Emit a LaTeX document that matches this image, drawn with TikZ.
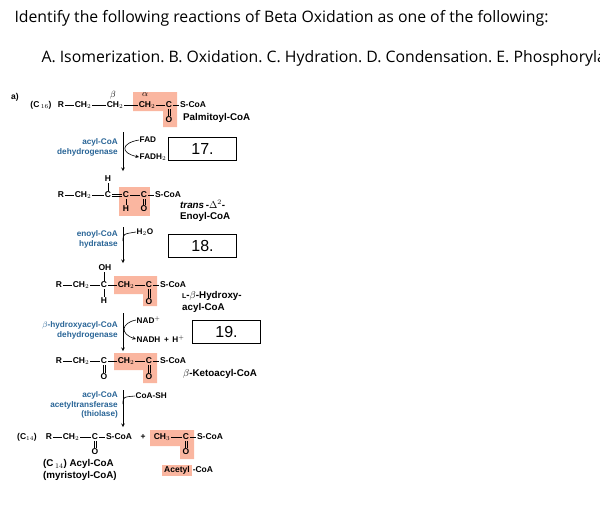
\documentclass[tikz,border=0pt]{standalone}
\usepackage{fontspec}
\setmainfont{Liberation Sans}
\newfontfamily\titlefont{Open Sans}
\usetikzlibrary{positioning}
\definecolor{hilite}{RGB}{250,182,160}
\definecolor{enzblue}{RGB}{40,100,150}
\tikzset{
  atom/.style={font=\bfseries\fontsize{8.5}{9}\selectfont, inner sep=0.6pt},
  lbl/.style={font=\bfseries\fontsize{9.8}{11.5}\selectfont, inner sep=0pt, align=left},
  enz/.style={font=\bfseries\fontsize{8.2}{9.8}\selectfont, text=enzblue, inner sep=0pt, align=right, anchor=east},
  cof/.style={font=\bfseries\fontsize{8.2}{9}\selectfont, inner sep=0.5pt, anchor=west},
  ansbox/.style={draw, line width=1pt, minimum width=68pt, minimum height=23pt, inner sep=2pt,
    font=\fontsize{16}{16}\selectfont, text depth=0pt},
  bond/.style={line width=0.6pt},
  rxn/.style={-stealth, line width=0.6pt},
}
\begin{document}
\begin{tikzpicture}[x=1pt,y=-1pt]
  \useasboundingbox (0,0) rectangle (600,507);
  % question
  \node[anchor=west, font=\titlefont\fontsize{15.8}{18}\selectfont] (q) at (11,18)
    {Identify the following reactions of Beta Oxidation as one of the following:};
  \node[anchor=west, font=\titlefont\fontsize{15.8}{18}\selectfont] (opts) at (38,58)
    {A.\ Isomerization.\ B.\ Oxidation.\ C.\ Hydration.\ D.\ Condensation.\ E.\ Phosphorylation};

  % highlights
  \fill[hilite] (133,92) -- (177,92) -- (177,127) -- (163,127) -- (163,111) -- (133,111) -- cycle;
  \fill[hilite] (119,187) rectangle (150,216);
  \fill[hilite] (114,276) -- (157,276) -- (157,306) -- (143,306) -- (143,294) -- (114,294) -- cycle;
  \fill[hilite] (114,353) -- (157,353) -- (157,383) -- (143,383) -- (143,370) -- (114,370) -- cycle;
  \fill[hilite] (150,430) -- (194,430) -- (194,459) -- (180,459) -- (180,446) -- (150,446) -- cycle;

  \node[atom] at (15,97) {a)};
  % palmitoyl-CoA
  \node[atom] (p0) at (41,105) {(C\,$_{16}$)};
  \node[atom] (p1) at (61,105) {R};
  \node[atom] (p2) at (83,105) {CH$_2$};
  \node[atom] (p3) at (115,105) {CH$_2$};
  \node[atom] (p4) at (147,105) {CH$_2$};
  \node[atom] (p5) at (169,105) {C};
  \node[atom] (p6) at (193,105) {S-CoA};
  \node[atom] (po) at (169,120) {O};
  \node[atom, font=\itshape\bfseries\fontsize{9}{9}\selectfont] at (113,95) {$\beta$};
  \node[atom, font=\fontsize{9}{9}\selectfont] at (145,95) {$\alpha$};
  \foreach \a/\b in {p1/p2,p2/p3,p3/p4,p4/p5,p5/p6} \draw[bond] (\a) -- (\b);
  \draw[bond] ([xshift=-1pt]p5.south) -- ([xshift=-1pt]po.north);
  \draw[bond] ([xshift=1pt]p5.south) -- ([xshift=1pt]po.north);
  \node[lbl, anchor=west] at (183,118) {Palmitoyl-CoA};

  % step 1
  \coordinate (s1a) at (123,132);
  \coordinate (s1b) at (123,171);
  \draw[rxn] (s1a) -- (s1b);
  \node[enz] at (118,147) {acyl-CoA\\dehydrogenase};
  \node[cof] (fad) at (139,140) {FAD};
  \node[cof] (fadh) at (139,157) {FADH$_2$};
  \draw[rxn] (fad.west) .. controls (121,143) and (120,153) .. (fadh.west);
  \node[ansbox, anchor=west] (b17) at (168,149) {17.\hspace{30pt}};

  % trans-enoyl-CoA
  \node[atom] (e1) at (61,195) {R};
  \node[atom] (e2) at (83,195) {CH$_2$};
  \node[atom] (e3) at (108,195) {C};
  \node[atom] (e4) at (126,195) {C};
  \node[atom] (e5) at (144,195) {C};
  \node[atom] (e6) at (168,195) {S-CoA};
  \node[atom] (eh1) at (108,179) {H};
  \node[atom] (eh2) at (126,209) {H};
  \node[atom] (eo) at (144,209) {O};
  \foreach \a/\b in {e1/e2,e2/e3,e4/e5,e5/e6,e3/eh1,e4/eh2} \draw[bond] (\a) -- (\b);
  \draw[bond] ([yshift=-1pt]e3.east) -- ([yshift=-1pt]e4.west);
  \draw[bond] ([yshift=1pt]e3.east) -- ([yshift=1pt]e4.west);
  \draw[bond] ([xshift=-1pt]e5.south) -- ([xshift=-1pt]eo.north);
  \draw[bond] ([xshift=1pt]e5.south) -- ([xshift=1pt]eo.north);
  \node[lbl, anchor=west] at (180,211) {\textit{trans}\,-$\Delta^2$-\\Enoyl-CoA};

  % step 2
  \coordinate (s2a) at (123,227);
  \coordinate (s2b) at (123,263);
  \draw[rxn] (s2a) -- (s2b);
  \node[enz] at (118,239) {enoyl-CoA\\hydratase};
  \node[cof] (water) at (136,232) {H$_2$O};
  \draw[bond] (water.west) .. controls (123,234) .. (123,241);
  \node[ansbox, anchor=west] (b18) at (168,246) {18.\hspace{30pt}};

  % hydroxyacyl-CoA
  \node[atom] (h1) at (59,285) {R};
  \node[atom] (h2) at (81,285) {CH$_2$};
  \node[atom] (h3) at (104,285) {C};
  \node[atom] (h4) at (126,285) {CH$_2$};
  \node[atom] (h5) at (149,285) {C};
  \node[atom] (h6) at (173,285) {S-CoA};
  \node[atom] (hoh) at (105,268) {OH};
  \node[atom] (hh) at (104,301) {H};
  \node[atom] (ho) at (149,302) {O};
  \foreach \a/\b in {h1/h2,h2/h3,h3/h4,h4/h5,h5/h6,h3/hh} \draw[bond] (\a) -- (\b);
  \draw[bond] (h3.north) -- (hoh.south -| h3.north);
  \draw[bond] ([xshift=-1pt]h5.south) -- ([xshift=-1pt]ho.north);
  \draw[bond] ([xshift=1pt]h5.south) -- ([xshift=1pt]ho.north);
  \node[lbl, anchor=west] at (182,302) {{\fontsize{7}{7}\selectfont L}-$\beta$-Hydroxy-\\acyl-CoA};

  % step 3
  \coordinate (s3a) at (123,313);
  \coordinate (s3b) at (123,351);
  \draw[rxn] (s3a) -- (s3b);
  \node[enz] at (118,330) {$\beta$-hydroxyacyl-CoA\\dehydrogenase};
  \node[cof] (nad) at (136,320) {NAD$^+$};
  \node[cof] (nadh) at (136,339) {NADH \,+\, H$^+$};
  \draw[rxn] (nad.west) .. controls (121,323) and (120,334) .. (nadh.west);
  \node[ansbox, anchor=west] (b19) at (192,332) {19.\hspace{30pt}};

  % ketoacyl-CoA
  \node[atom] (k1) at (59,361) {R};
  \node[atom] (k2) at (81,361) {CH$_2$};
  \node[atom] (k3) at (104,361) {C};
  \node[atom] (k4) at (126,361) {CH$_2$};
  \node[atom] (k5) at (149,361) {C};
  \node[atom] (k6) at (173,361) {S-CoA};
  \node[atom] (ko1) at (104,377) {O};
  \node[atom] (ko2) at (149,377) {O};
  \foreach \a/\b in {k1/k2,k2/k3,k3/k4,k4/k5,k5/k6} \draw[bond] (\a) -- (\b);
  \foreach \a/\b in {k3/ko1,k5/ko2} {
    \draw[bond] ([xshift=-1pt]\a.south) -- ([xshift=-1pt]\b.north);
    \draw[bond] ([xshift=1pt]\a.south) -- ([xshift=1pt]\b.north);
  }
  \node[lbl, anchor=west] at (183,374) {$\beta$-Ketoacyl-CoA};

  % step 4
  \coordinate (s4a) at (123,390);
  \coordinate (s4b) at (123,427);
  \draw[rxn] (s4a) -- (s4b);
  \node[enz] at (118,405) {acyl-CoA\\acetyltransferase\\(thiolase)};
  \node[cof] (coash) at (135,396) {CoA-SH};
  \draw[bond] (coash.west) .. controls (123,397) .. (123,404);

  % products
  \node[atom] (m0) at (27,437) {(C$_{14}$)};
  \node[atom] (m1) at (49,437) {R};
  \node[atom] (m2) at (71,437) {CH$_2$};
  \node[atom] (m3) at (95,437) {C};
  \node[atom] (m4) at (119,437) {S-CoA};
  \node[atom] (plus) at (143,437) {+};
  \node[atom] (a1) at (162,437) {CH$_3$};
  \node[atom] (a2) at (186,437) {C};
  \node[atom] (a3) at (210,437) {S-CoA};
  \node[atom] (mo) at (95,452) {O};
  \node[atom] (ao) at (186,452) {O};
  \foreach \a/\b in {m1/m2,m2/m3,m3/m4,a1/a2,a2/a3} \draw[bond] (\a) -- (\b);
  \foreach \a/\b in {m3/mo,a2/ao} {
    \draw[bond] ([xshift=-1pt]\a.south) -- ([xshift=-1pt]\b.north);
    \draw[bond] ([xshift=1pt]\a.south) -- ([xshift=1pt]\b.north);
  }
  \node[lbl, anchor=west] at (43,470) {(C\,$_{14}$) Acyl-CoA\\(myristoyl-CoA)};
  \node[atom, fill=hilite, minimum height=11pt, inner xsep=2pt] (acet) at (177,470) {Acetyl};
  \node[atom, anchor=west] at (acet.east) {-CoA};
\end{tikzpicture}
\end{document}
